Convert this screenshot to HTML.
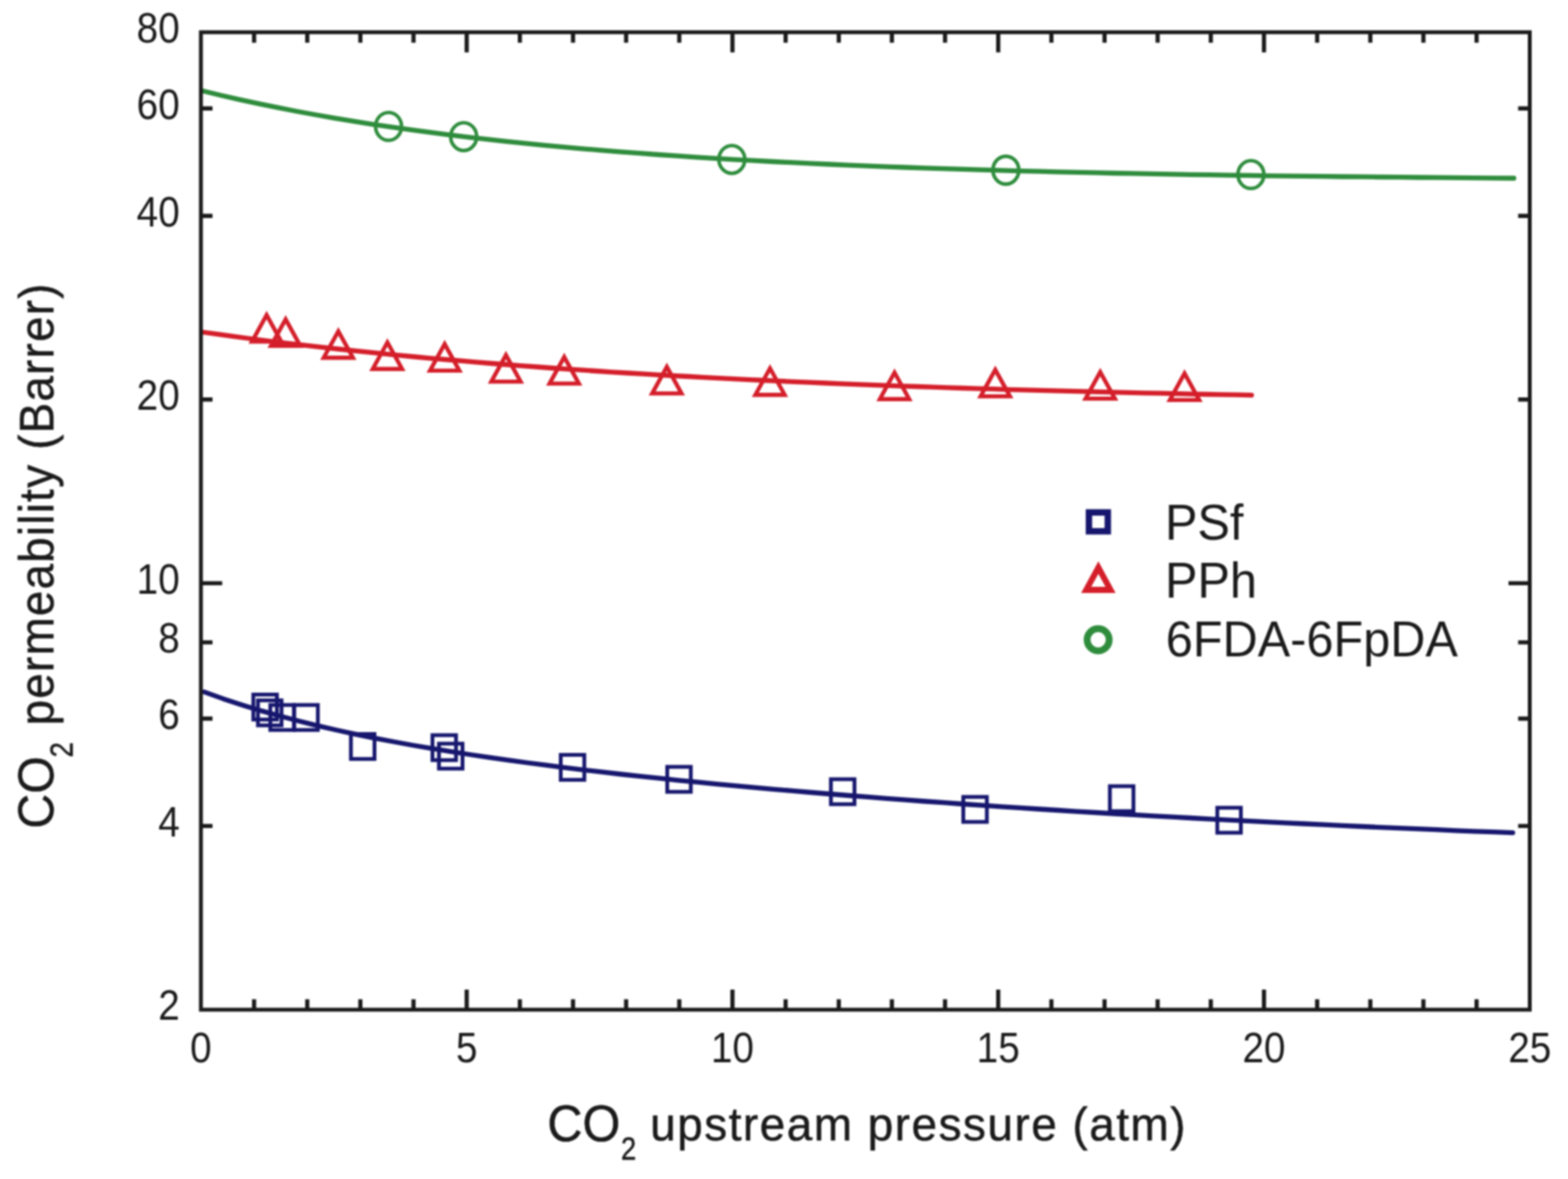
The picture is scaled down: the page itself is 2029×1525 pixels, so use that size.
<!DOCTYPE html><html><head><meta charset="utf-8"><title>CO2 permeability vs upstream pressure</title><style>html,body{margin:0;padding:0;background:#fff;overflow:hidden;}svg{display:block;filter:blur(1.2px);}text{font-family:"Liberation Sans",Arial,Helvetica,sans-serif;fill:#1a1a1a;}</style></head><body>
<svg width="2029" height="1525" viewBox="0 0 2029 1525">
<rect width="2029" height="1525" fill="#fff"/>
<g id="plot">
<path d="M328.8,1306.0V1292.5M328.8,41.7V55.2M397.6,1306.0V1292.5M397.6,41.7V55.2M466.3,1306.0V1292.5M466.3,41.7V55.2M535.1,1306.0V1292.5M535.1,41.7V55.2M603.9,1306.0V1280.0M603.9,41.7V67.7M672.7,1306.0V1292.5M672.7,41.7V55.2M741.5,1306.0V1292.5M741.5,41.7V55.2M810.2,1306.0V1292.5M810.2,41.7V55.2M879.0,1306.0V1292.5M879.0,41.7V55.2M947.8,1306.0V1280.0M947.8,41.7V67.7M1016.6,1306.0V1292.5M1016.6,41.7V55.2M1085.4,1306.0V1292.5M1085.4,41.7V55.2M1154.1,1306.0V1292.5M1154.1,41.7V55.2M1222.9,1306.0V1292.5M1222.9,41.7V55.2M1291.7,1306.0V1280.0M1291.7,41.7V67.7M1360.5,1306.0V1292.5M1360.5,41.7V55.2M1429.3,1306.0V1292.5M1429.3,41.7V55.2M1498.0,1306.0V1292.5M1498.0,41.7V55.2M1566.8,1306.0V1292.5M1566.8,41.7V55.2M1635.6,1306.0V1280.0M1635.6,41.7V67.7M1704.4,1306.0V1292.5M1704.4,41.7V55.2M1773.2,1306.0V1292.5M1773.2,41.7V55.2M1841.9,1306.0V1292.5M1841.9,41.7V55.2M1910.7,1306.0V1292.5M1910.7,41.7V55.2M260.0,1068.4H275.0M1979.5,1068.4H1964.5M260.0,929.5H275.0M1979.5,929.5H1964.5M260.0,830.9H275.0M1979.5,830.9H1964.5M260.0,754.4H287.5M1979.5,754.4H1952.0M260.0,516.8H275.0M1979.5,516.8H1964.5M260.0,279.3H275.0M1979.5,279.3H1964.5M260.0,140.3H275.0M1979.5,140.3H1964.5" stroke="#1a1a1a" stroke-width="5.4" fill="none"/>
<path d="M261.0,117.3 L285.6,123.2 L310.2,128.9 L334.8,134.2 L359.4,139.2 L384.0,144.0 L408.7,148.5 L433.3,152.8 L457.9,156.9 L482.5,160.8 L507.1,164.4 L531.7,167.9 L556.3,171.2 L580.9,174.3 L605.5,177.3 L630.1,180.2 L654.7,182.8 L679.3,185.4 L704.0,187.8 L728.6,190.1 L753.2,192.3 L777.8,194.4 L802.4,196.4 L827.0,198.2 L851.6,200.0 L876.2,201.7 L900.8,203.3 L925.4,204.8 L950.0,206.3 L974.7,207.7 L999.3,209.0 L1023.9,210.2 L1048.5,211.4 L1073.1,212.5 L1097.7,213.6 L1122.3,214.6 L1146.9,215.6 L1171.5,216.5 L1196.1,217.3 L1220.7,218.2 L1245.3,218.9 L1270.0,219.7 L1294.6,220.4 L1319.2,221.1 L1343.8,221.7 L1368.4,222.3 L1393.0,222.9 L1417.6,223.4 L1442.2,224.0 L1466.8,224.4 L1491.4,224.9 L1516.0,225.4 L1540.7,225.8 L1565.3,226.2 L1589.9,226.6 L1614.5,226.9 L1639.1,227.3 L1663.7,227.6 L1688.3,227.9 L1712.9,228.2 L1737.5,228.5 L1762.1,228.7 L1786.7,229.0 L1811.3,229.2 L1836.0,229.5 L1860.6,229.7 L1885.2,229.9 L1909.8,230.1 L1934.4,230.3 L1959.0,230.5" stroke="#2e8c3c" stroke-width="6.3" fill="none" stroke-linejoin="round" stroke-linecap="round"/>
<path d="M261.0,429.5 L280.7,432.2 L300.4,434.9 L320.1,437.5 L339.8,440.0 L359.4,442.5 L379.1,444.8 L398.8,447.1 L418.5,449.4 L438.2,451.5 L457.9,453.6 L477.6,455.7 L497.3,457.7 L516.9,459.6 L536.6,461.5 L556.3,463.3 L576.0,465.0 L595.7,466.7 L615.4,468.4 L635.1,470.0 L654.8,471.5 L674.5,473.1 L694.1,474.5 L713.8,476.0 L733.5,477.3 L753.2,478.7 L772.9,480.0 L792.6,481.3 L812.3,482.5 L832.0,483.7 L851.7,484.8 L871.3,486.0 L891.0,487.0 L910.7,488.1 L930.4,489.1 L950.1,490.1 L969.8,491.1 L989.5,492.0 L1009.2,492.9 L1028.8,493.8 L1048.5,494.7 L1068.2,495.5 L1087.9,496.3 L1107.6,497.1 L1127.3,497.9 L1147.0,498.6 L1166.7,499.3 L1186.4,500.0 L1206.0,500.7 L1225.7,501.4 L1245.4,502.0 L1265.1,502.6 L1284.8,503.2 L1304.5,503.8 L1324.2,504.3 L1343.9,504.9 L1363.6,505.4 L1383.2,505.9 L1402.9,506.4 L1422.6,506.9 L1442.3,507.4 L1462.0,507.9 L1481.7,508.3 L1501.4,508.7 L1521.1,509.2 L1540.7,509.6 L1560.4,510.0 L1580.1,510.3 L1599.8,510.7 L1619.5,511.1" stroke="#d41e2a" stroke-width="6.3" fill="none" stroke-linejoin="round" stroke-linecap="round"/>
<path d="M264.5,895.1 L289.0,903.9 L313.6,911.9 L338.1,919.4 L362.6,926.3 L387.2,932.8 L411.7,938.9 L436.3,944.5 L460.8,949.8 L485.3,954.8 L509.9,959.5 L534.4,964.0 L558.9,968.2 L583.5,972.2 L608.0,976.0 L632.5,979.7 L657.1,983.2 L681.6,986.5 L706.2,989.7 L730.7,992.8 L755.2,995.8 L779.8,998.7 L804.3,1001.5 L828.8,1004.1 L853.4,1006.7 L877.9,1009.3 L902.4,1011.7 L927.0,1014.1 L951.5,1016.4 L976.1,1018.6 L1000.6,1020.8 L1025.1,1022.9 L1049.7,1025.0 L1074.2,1027.0 L1098.7,1029.0 L1123.3,1030.9 L1147.8,1032.8 L1172.3,1034.7 L1196.9,1036.5 L1221.4,1038.2 L1245.9,1040.0 L1270.5,1041.6 L1295.0,1043.3 L1319.6,1044.9 L1344.1,1046.5 L1368.6,1048.0 L1393.2,1049.6 L1417.7,1051.0 L1442.2,1052.5 L1466.8,1053.9 L1491.3,1055.3 L1515.8,1056.7 L1540.4,1058.0 L1564.9,1059.3 L1589.5,1060.6 L1614.0,1061.9 L1638.5,1063.1 L1663.1,1064.3 L1687.6,1065.5 L1712.1,1066.7 L1736.7,1067.8 L1761.2,1069.0 L1785.7,1070.1 L1810.3,1071.1 L1834.8,1072.2 L1859.4,1073.2 L1883.9,1074.3 L1908.4,1075.3 L1933.0,1076.2 L1957.5,1077.2" stroke="#16166e" stroke-width="6.3" fill="none" stroke-linejoin="round" stroke-linecap="round"/>
<g fill="none" stroke="#2e8c3c" stroke-width="4.6"><ellipse cx="502.8" cy="163.5" rx="16.8" ry="18.0"/><ellipse cx="600" cy="176.7" rx="16.8" ry="18.0"/><ellipse cx="947" cy="206.2" rx="16.8" ry="18.0"/><ellipse cx="1301.6" cy="220.1" rx="16.8" ry="18.0"/><ellipse cx="1618.7" cy="225.8" rx="16.8" ry="18.0"/></g>
<g fill="#d41e2a" fill-rule="evenodd"><path d="M321.5,444.6 L345.0,402.1 L368.5,444.6ZM330.5,439.2 L345.0,413.0 L359.5,439.2Z"/><path d="M346.1,450.1 L369.6,407.6 L393.1,450.1ZM355.1,444.8 L369.6,418.5 L384.1,444.8Z"/><path d="M414.3,465.4 L437.8,422.9 L461.3,465.4ZM423.3,460.1 L437.8,433.9 L452.3,460.1Z"/><path d="M477.8,479.9 L501.3,437.4 L524.8,479.9ZM486.8,474.6 L501.3,448.3 L515.8,474.6Z"/><path d="M551.9,482.1 L575.4,439.6 L598.9,482.1ZM560.9,476.8 L575.4,450.6 L589.9,476.8Z"/><path d="M631.2,496.2 L654.7,453.8 L678.2,496.2ZM640.2,490.9 L654.7,464.7 L669.2,490.9Z"/><path d="M706.6,498.8 L730.1,456.2 L753.6,498.8ZM715.6,493.4 L730.1,467.2 L744.6,493.4Z"/><path d="M839.4,511.6 L862.9,469.1 L886.4,511.6ZM848.4,506.2 L862.9,480.0 L877.4,506.2Z"/><path d="M972.9,513.4 L996.4,470.9 L1019.9,513.4ZM981.9,508.1 L996.4,481.8 L1010.9,508.1Z"/><path d="M1134.0,518.9 L1157.5,476.4 L1181.0,518.9ZM1143.0,513.6 L1157.5,487.3 L1172.0,513.6Z"/><path d="M1264.4,515.2 L1287.9,472.8 L1311.4,515.2ZM1273.4,509.9 L1287.9,483.7 L1302.4,509.9Z"/><path d="M1400.2,518.2 L1423.7,475.8 L1447.2,518.2ZM1409.2,513.0 L1423.7,486.7 L1438.2,513.0Z"/><path d="M1509.3,520.0 L1532.8,477.4 L1556.3,520.0ZM1518.3,514.7 L1532.8,488.4 L1547.3,514.7Z"/></g>
<g fill="none" stroke="#16166e" stroke-width="4.9"><rect x="327.8" y="898.4" width="30.5" height="32.3"/><rect x="333.8" y="905.9" width="30.5" height="32.3"/><rect x="349.8" y="911.9" width="30.5" height="32.3"/><rect x="380.8" y="911.9" width="30.5" height="32.3"/><rect x="454.1" y="949.4" width="30.5" height="32.3"/><rect x="559.6" y="950.9" width="30.5" height="32.3"/><rect x="568.0" y="961.9" width="30.5" height="32.3"/><rect x="725.6" y="976.4" width="30.5" height="32.3"/><rect x="863.4" y="991.9" width="30.5" height="32.3"/><rect x="1075.2" y="1007.9" width="30.5" height="32.3"/><rect x="1246.5" y="1030.8" width="30.5" height="32.3"/><rect x="1436.2" y="1016.9" width="30.5" height="32.3"/><rect x="1575.2" y="1044.8" width="30.5" height="32.3"/></g>
<rect x="260.0" y="41.7" width="1719.5" height="1264.3" fill="none" stroke="#1a1a1a" stroke-width="5.0"/>
<rect x="1409.1" y="662.8" width="24.4" height="24.4" fill="none" stroke="#16166e" stroke-width="8.3"/>
<path d="M1399.0,766.9 L1421.3,725.9 L1443.6,766.9ZM1412.1,759.1 L1421.3,742.2 L1430.5,759.1Z" fill="#d41e2a" fill-rule="evenodd"/>
<circle cx="1421" cy="827.5" r="14.3" fill="none" stroke="#2e8c3c" stroke-width="8.8"/>
</g>
<g><text transform="translate(260.0,1373.9) scale(0.911,1)" text-anchor="middle" font-size="55">0</text><text transform="translate(603.9,1373.9) scale(0.911,1)" text-anchor="middle" font-size="55">5</text><text transform="translate(947.8,1373.9) scale(0.911,1)" text-anchor="middle" font-size="55">10</text><text transform="translate(1291.7,1373.9) scale(0.911,1)" text-anchor="middle" font-size="55">15</text><text transform="translate(1635.6,1373.9) scale(0.911,1)" text-anchor="middle" font-size="55">20</text><text transform="translate(1979.5,1373.9) scale(0.911,1)" text-anchor="middle" font-size="55">25</text><text transform="translate(232.6,1319.3) scale(0.911,1)" text-anchor="end" font-size="55">2</text><text transform="translate(232.6,1081.7) scale(0.911,1)" text-anchor="end" font-size="55">4</text><text transform="translate(232.6,942.8) scale(0.911,1)" text-anchor="end" font-size="55">6</text><text transform="translate(232.6,844.2) scale(0.911,1)" text-anchor="end" font-size="55">8</text><text transform="translate(232.6,767.7) scale(0.911,1)" text-anchor="end" font-size="55">10</text><text transform="translate(232.6,530.1) scale(0.911,1)" text-anchor="end" font-size="55">20</text><text transform="translate(232.6,292.6) scale(0.911,1)" text-anchor="end" font-size="55">40</text><text transform="translate(232.6,153.6) scale(0.911,1)" text-anchor="end" font-size="55">60</text><text transform="translate(232.6,55.0) scale(0.911,1)" text-anchor="end" font-size="55">80</text></g>
<g stroke="#1a1a1a" stroke-width="0.6">
<text transform="translate(708.3,1475.8) scale(1,1.05)" font-size="62.95">CO</text>
<text transform="translate(803.50,1500.1) scale(0.88,1.05)" font-size="40.5">2</text>
<text transform="translate(841.30,1475.0) scale(1,1.04)" font-size="59.5" letter-spacing="1.89">upstream pressure (atm)</text>
<g transform="translate(69.2,1072) rotate(-90)">
<text transform="scale(1,1.03)" font-size="62.6">CO</text>
<text transform="translate(92.2,24.8) scale(0.88,1.03)" font-size="40.5">2</text>
<text transform="translate(133.8,0) scale(1,1.065)" font-size="59.2" letter-spacing="1.6">permeability (Barrer)</text>
</g>
</g>
<text transform="translate(1507.5,697.5) scale(1,1.03)" font-size="63">PSf</text>
<text transform="translate(1507.5,773.0) scale(1,1.03)" font-size="63">PPh</text>
<text transform="translate(1508.5,849.2) scale(1,1.03)" font-size="63">6FDA-6FpDA</text>
</svg></body></html>
